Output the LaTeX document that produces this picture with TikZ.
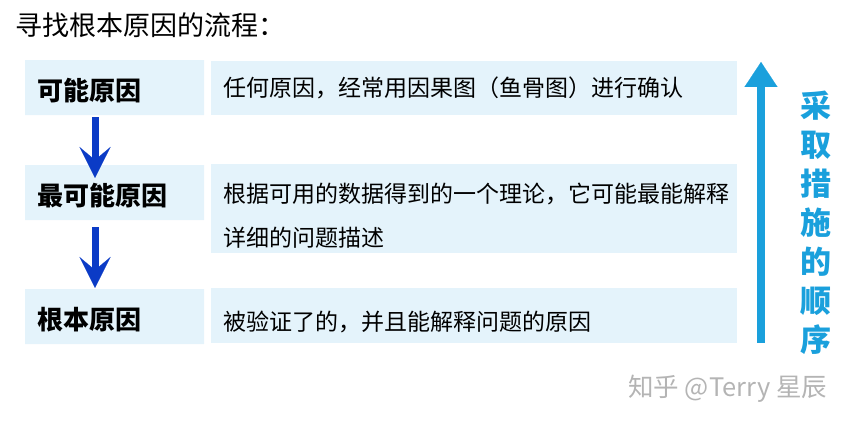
\documentclass[tikz,border=0pt]{standalone}
\usepackage{fontspec}
\setmainfont{Noto Sans CJK SC}
\usetikzlibrary{shapes.misc, arrows.meta}
\definecolor{boxfill}{HTML}{E4F3FB}
\definecolor{darkarrow}{HTML}{0B3BC6}
\definecolor{lightarrow}{HTML}{1AA0DC}
\definecolor{marktext}{HTML}{B4B4B4}
\tikzset{
	causebox/.style={chamfered rectangle, chamfered rectangle corners=north east, chamfered rectangle xsep=5pt, chamfered rectangle ysep=5pt, fill=boxfill, inner sep=0pt, minimum width=179pt, minimum height=55pt, anchor=north west},
	descbox/.style={rectangle, fill=boxfill, inner sep=0pt, minimum width=526pt, anchor=north west},
	causetext/.style={anchor=west, inner sep=0pt, font=\fontsize{26}{30}\selectfont\bfseries},
	desctext/.style={anchor=west, inner sep=0pt, align=left, font=\fontsize{23}{44}\selectfont},
	downarrow/.style={draw=darkarrow, line width=7pt, -{Stealth[length=31pt, width=31pt, inset=13pt, line width=0.1pt]}},
	uparrow/.style={draw=lightarrow, line width=8pt, -{Triangle[length=25pt, width=33pt, line width=0.1pt]}}
}

\begin{document}
\begin{tikzpicture}[x=1pt, y=-1pt]
\useasboundingbox (0,0) rectangle (852,427);
\node (title) [anchor=west, inner sep=0pt, font=\fontsize{27}{30}\selectfont] at (15,25) {寻找根本原因的流程：};
% left column
\node (lbox1) [causebox] at (25,60) {};
\node (lbox2) [causebox] at (25,165) {};
\node (lbox3) [causebox] at (25,289) {};
\node (ltext1) [causetext] at ([xshift=12pt, yshift=-2.5pt]lbox1.west) {可能原因};
\node (ltext2) [causetext] at ([xshift=12pt, yshift=-2.5pt]lbox2.west) {最可能原因};
\node (ltext3) [causetext] at ([xshift=12pt, yshift=-2.5pt]lbox3.west) {根本原因};
% right column
\node (rbox1) [descbox, minimum height=54pt] at (211,61) {};
\node (rbox2) [descbox, minimum height=89pt] at (211,164) {};
\node (rbox3) [descbox, minimum height=55pt] at (211,288) {};
\node (rtext1) [desctext] at ([xshift=12pt]rbox1.west) {任何原因，经常用因果图（鱼骨图）进行确认};
\node (rtext2) [desctext] at ([xshift=12pt, yshift=-6.5pt]rbox2.west) {根据可用的数据得到的一个理论，它可能最能解释\\详细的问题描述};
\node (rtext3) [desctext] at ([xshift=12pt, yshift=-6pt]rbox3.west) {被验证了的，并且能解释问题的原因};
% arrows
\coordinate (tip1) at (95,178);
\coordinate (tip2) at (95,288);
\draw[downarrow, shorten <=2pt] (lbox1.south -| tip1) -- (tip1);
\draw[downarrow, shorten <=7pt] (lbox2.south -| tip2) -- (tip2);
\coordinate (upbot) at (761,343);
\coordinate (uptop) at (761,62);
\draw[uparrow] (upbot) -- (uptop);
\node (order) [font=\fontsize{31}{39}\selectfont\bfseries, text=lightarrow, align=center, inner sep=0pt] at (816,223) {采\\取\\措\\施\\的\\顺\\序};
\node (mark) [anchor=west, text=marktext, font=\fontsize{25.5}{27}\selectfont, inner sep=0pt] at (628,389) {知乎 @Terry 星辰};
\end{tikzpicture}
\end{document}
